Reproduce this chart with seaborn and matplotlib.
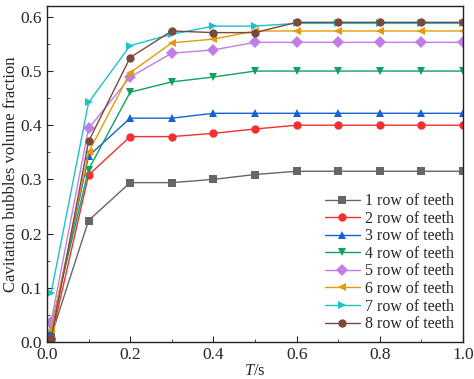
import pandas as pd
import seaborn as sns
import matplotlib.pyplot as plt
from matplotlib.ticker import MultipleLocator

# time points (s)
t = [0.01, 0.1, 0.2, 0.3, 0.4, 0.5, 0.6, 0.7, 0.8, 0.9, 1.0]

# volume fraction of cavitation bubbles for each number of teeth rows
row1 = [0.010, 0.224, 0.294, 0.294, 0.300, 0.309, 0.315, 0.315, 0.315, 0.315, 0.315]
row2 = [0.005, 0.308, 0.379, 0.379, 0.385, 0.393, 0.400, 0.400, 0.400, 0.400, 0.400]
row3 = [0.020, 0.343, 0.413, 0.413, 0.422, 0.422, 0.422, 0.422, 0.422, 0.422, 0.422]
row4 = [0.028, 0.318, 0.461, 0.480, 0.489, 0.500, 0.500, 0.500, 0.500, 0.500, 0.500]
row5 = [0.037, 0.394, 0.489, 0.533, 0.539, 0.553, 0.553, 0.553, 0.553, 0.553, 0.553]
row6 = [0.022, 0.350, 0.497, 0.552, 0.559, 0.574, 0.574, 0.574, 0.574, 0.574, 0.574]
row7 = [0.090, 0.442, 0.547, 0.568, 0.583, 0.583, 0.588, 0.588, 0.588, 0.588, 0.588]
row8 = [0.005, 0.370, 0.525, 0.574, 0.571, 0.571, 0.590, 0.590, 0.590, 0.590, 0.590]

labels = [f"{i} row of teeth" for i in range(1, 9)]
series = [row1, row2, row3, row4, row5, row6, row7, row8]
colors = ['#666666', '#f2302f', '#1562d2', '#12a060', '#c27de8',
          '#e39b0a', '#1cc2c8', '#7a4a3e']
markers = ['s', 'o', '^', 'v', 'D', '<', '>', 'o']

df = pd.DataFrame({
    'T': t * 8,
    'value': [v for s in series for v in s],
    'group': [lab for lab in labels for _ in t],
})

sns.set_style('ticks')
plt.rcParams['font.family'] = ['Liberation Serif', 'DejaVu Serif']
plt.rcParams['mathtext.fontset'] = 'custom'
plt.rcParams['mathtext.it'] = 'Liberation Serif:italic'
plt.rcParams['mathtext.rm'] = 'Liberation Serif'

fig, ax = plt.subplots(figsize=(4.74, 3.79), dpi=100)
fig.subplots_adjust(left=0.099, right=0.977, bottom=0.098, top=0.984)

sns.lineplot(data=df, x='T', y='value', hue='group', style='group',
             palette=dict(zip(labels, colors)),
             markers=dict(zip(labels, markers)), dashes=False,
             linewidth=1.0, markersize=6, markeredgewidth=0, ax=ax)

ax.set_xlim(0, 1.0)
ax.set_ylim(0, 0.62)
ax.xaxis.set_major_locator(MultipleLocator(0.2))
ax.xaxis.set_minor_locator(MultipleLocator(0.1))
ax.yaxis.set_major_locator(MultipleLocator(0.1))
ax.yaxis.set_minor_locator(MultipleLocator(0.05))
ax.tick_params(which='both', direction='in', labelsize=12.5)
ax.tick_params(which='major', length=4)
ax.tick_params(which='minor', length=2.5)
for sp in ax.spines.values():
    sp.set_linewidth(1.0)
    sp.set_color('#222222')

ax.set_xlabel('$T$/s', fontsize=12, labelpad=0)
ax.set_ylabel('Cavitation bubbles volume fraction', fontsize=12, labelpad=1)

ax.legend(loc='lower right', frameon=False, fontsize=11.5, handlelength=2.2,
          handletextpad=0.3, labelspacing=0.1, borderaxespad=0.2)

plt.savefig('out.png', dpi=100)
